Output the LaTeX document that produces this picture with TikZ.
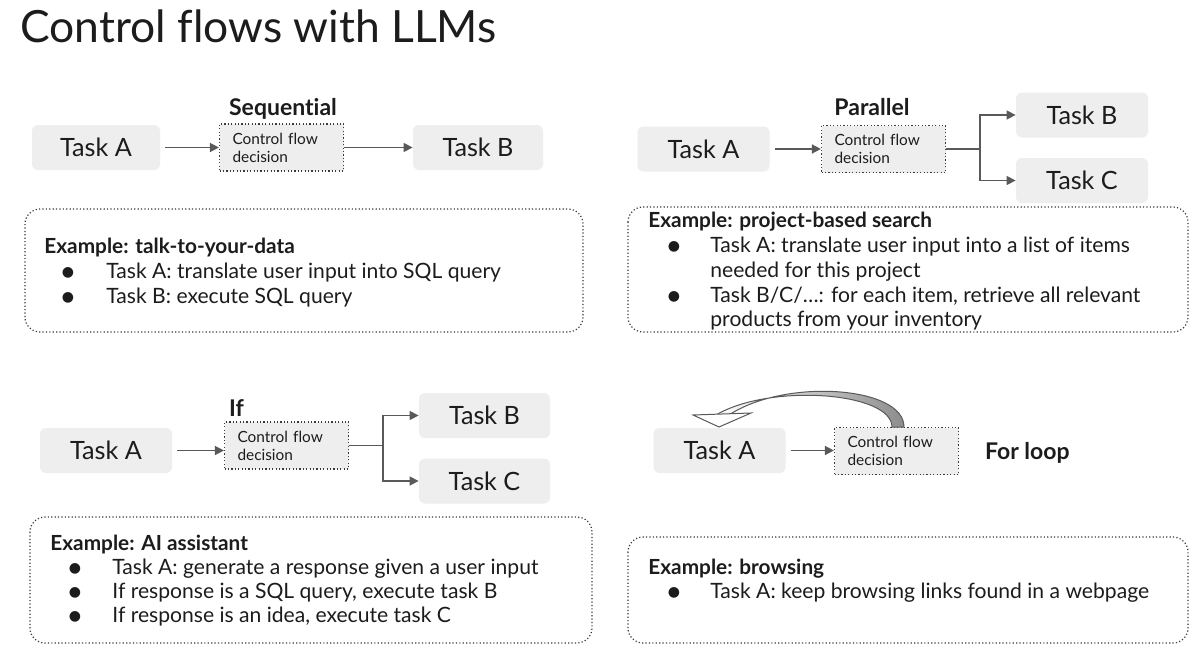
\documentclass[tikz,border=0pt]{standalone}
\usepackage{fontspec}
\setmainfont{Lato}[Ligatures={NoCommon}]
\newfontfamily\symfont{DejaVu Sans}
\usetikzlibrary{arrows.meta}
\definecolor{boxgray}{HTML}{EEEEEE}
\definecolor{arrgray}{HTML}{595959}
\definecolor{txt}{HTML}{1C1C1C}
\definecolor{dotgray}{HTML}{3A3A3A}
\begin{document}
\begin{tikzpicture}[x=0.5pt,y=-0.5pt,
  every node/.style={text=txt},
  taskbox/.style={fill=boxgray, rounded corners=3pt, minimum width=66pt, minimum height=22.5pt, inner sep=0pt, font=\fontsize{12.6}{15}\selectfont},
  ctrlbox/.style={fill=boxgray, draw=dotgray, line width=0.6pt, dash pattern=on 0.6pt off 1.1pt, minimum height=23.5pt, text width=49pt, inner xsep=6.5pt, inner ysep=0pt, align=left, font=\fontsize{7.7}{9}\selectfont},
  examplebox/.style={draw=dotgray, line width=0.6pt, dash pattern=on 0.6pt off 1.1pt, rounded corners=7.5pt},
  heading/.style={anchor=base, font=\bfseries\fontsize{11.5}{14}\selectfont},
  exhead/.style={anchor=base west, inner sep=0pt, font=\bfseries\fontsize{10.4}{12}\selectfont},
  item/.style={anchor=base west, inner sep=0pt, font=\fontsize{10.55}{12}\selectfont},
  bul/.style={anchor=center, inner sep=0pt, yshift=2.8pt, font=\symfont\fontsize{7}{8}\selectfont},
  flow/.style={draw=arrgray, line width=0.75pt, -{Triangle[length=4.5pt, width=4.5pt]}},
  flowline/.style={draw=arrgray, line width=0.75pt}
]
\useasboundingbox (0,0) rectangle (1200,653);
\fill[white] (0,0) rectangle (1200,653);

% Title
\node[anchor=base west, inner sep=0pt, font=\fontsize{22.2}{26}\selectfont] (title) at (20,42) {Control flows with LLMs};

% ---------------- Sequential ----------------
\node[heading] (seqh) at (283,115) {Sequential};
\node[taskbox, minimum width=64pt] (sa) at (96,147.5) {Task A};
\node[ctrlbox] (sc) at (281.5,147.5) {Control flow\\decision};
\node[taskbox, minimum width=65pt] (sb) at (478,147.5) {Task B};
\draw[flow, shorten <=2.5pt] (sa.east) -- (sc.west);
\draw[flow] (sc.east) -- (sb.west);
\draw[examplebox] (25,209) rectangle (583,332);
\node[exhead] (seqex) at (44,253) {Example: talk-to-your-data};
\node[bul] (sb1) at (68,278) {●};
\node[item] (si1) at (106,278) {Task A: translate user input into SQL query};
\node[bul] (sb2) at (68,303) {●};
\node[item] (si2) at (106,303) {Task B: execute SQL query};

% ---------------- Parallel ----------------
\node[heading] (parh) at (872,115) {Parallel};
\node[taskbox] (pa) at (703.5,149) {Task A};
\node[ctrlbox] (pc) at (883.5,149) {Control flow\\decision};
\node[taskbox] (pb) at (1082,115) {Task B};
\node[taskbox] (pcc) at (1082,180.5) {Task C};
\coordinate (pj) at (980,149);
\draw[flow, shorten <=2.5pt] (pa.east) -- (pc.west);
\draw[flowline] (pc.east) -- (pj);
\draw[flow] (pj) |- (pb.west);
\draw[flow] (pj) |- (pcc.west);
\draw[examplebox] (628,207) rectangle (1188,332);
\node[exhead] (parex) at (648,227) {Example: project-based search};
\node[bul] (pb1) at (674,252) {●};
\node[item] (pi1) at (710,252) {Task A: translate user input into a list of items};
\node[item] (pi1b) at (710,277) {needed for this project};
\node[bul] (pb2) at (674,302) {●};
\node[item] (pi2) at (710,302) {Task B/C/…: for each item, retrieve all relevant};
\node[item] (pi2b) at (710,326) {products from your inventory};

% ---------------- If ----------------
\node[heading, anchor=base west] (ifh) at (222,416) {If};
\node[taskbox] (ia) at (106,450.5) {Task A};
\node[ctrlbox] (ic) at (286.5,445.5) {Control flow\\decision};
\node[taskbox, minimum width=65.5pt] (ib) at (484.5,415.5) {Task B};
\node[taskbox, minimum width=65.5pt] (icc) at (484.5,481) {Task C};
\coordinate (ij) at (383,445.5);
\draw[flow, shorten <=2.5pt] (ia.east) -- (ic.west |- ia.east);
\draw[flowline] (ic.east) -- (ij);
\draw[flow] (ij) |- (ib.west);
\draw[flow] (ij) |- (icc.west);
\draw[examplebox] (30,517) rectangle (592,643);
\node[exhead] (ifex) at (50,550) {Example: AI assistant};
\node[bul] (ib1) at (75,574) {●};
\node[item] (ii1) at (112,574) {Task A: generate a response given a user input};
\node[bul] (ib2) at (75,598) {●};
\node[item] (ii2) at (112,598) {If response is a SQL query, execute task B};
\node[bul] (ib3) at (75,622) {●};
\node[item] (ii3) at (112,622) {If response is an idea, execute task C};

% ---------------- For loop ----------------
\node[taskbox] (la) at (719.5,450.5) {Task A};
\node[ctrlbox] (lc) at (896.5,451) {Control flow\\decision};
\node[heading, anchor=base west] (looph) at (978,459) {For loop};
\draw[flow, shorten <=2.5pt] (la.east) -- (lc.west |- la.east);
% curved block arrow from the decision back to Task A
\draw[draw=arrgray, line width=0.5pt, left color=white, right color=black!45]
  (904,427) .. controls (904,386) and (785,378) .. (729,415)
  -- (716,415) .. controls (770,383) and (892,392) .. (892,427) -- cycle;
\draw[draw=arrgray, line width=0.5pt, fill=white]
  (693,415) -- (751,413) -- (719,427) -- cycle;
\draw[examplebox] (628,537) rectangle (1188,643);
\node[exhead] (loopex) at (648,574) {Example: browsing};
\node[bul] (lb1) at (674,598) {●};
\node[item] (li1) at (710,598) {Task A: keep browsing links found in a webpage};
\end{tikzpicture}
\end{document}
